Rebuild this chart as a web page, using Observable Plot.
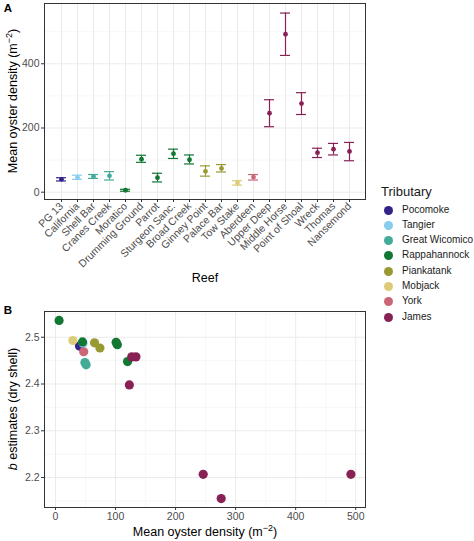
<!DOCTYPE html>
<html><head><meta charset="utf-8">
<script src="https://cdn.jsdelivr.net/npm/d3@7"></script>
<script src="https://cdn.jsdelivr.net/npm/@observablehq/plot@0.6"></script>
<style>
body{margin:0;background:#fff;font-family:"Liberation Sans",Arial,sans-serif;}
#wrap{position:relative;width:474px;height:541px;overflow:hidden;}
.panel{position:absolute;left:0;}
.leg{position:absolute;font-size:10px;color:#1a1a1a;white-space:nowrap;}
.legtitle{position:absolute;font-size:13px;color:#1a1a1a;}
.sw{position:absolute;width:9px;height:9px;border-radius:50%;}
</style></head><body><div id="wrap"></div>
<script>
const reefs = ["PG 13","California","Shell Bar","Cranes Creek","Moratico","Drumming Ground","Parrot","Sturgeon Sanc.","Broad Creek","Ginney Point","Palace Bar","Tow Stake","Aberdeen","Upper Deep","Middle Horse","Point of Shoal","Wreck","Thomas","Nansemond"];
const reefTributary = ["Pocomoke","Tangier","Great Wicomico","Great Wicomico","Rappahannock","Rappahannock","Rappahannock","Rappahannock","Rappahannock","Piankatank","Piankatank","Mobjack","York","James","James","James","James","James","James"];
const meanDensity = [40,46,49,51,6,103,45,120,101,65,74,29,47,246,492,276,123,134,127];
const densityLow = [35,40,43,38,3,93,32,105,88,50,63,22,38,204,426,242,108,116,98];
const densityHigh = [45,53,55,64,9,115,59,134,116,82,86,36,55,288,558,310,137,152,155];
const bEstimates = [2.481,2.487,2.446,2.441,2.536,2.484,2.490,2.448,2.489,2.488,2.477,2.493,2.469,2.207,2.207,2.155,2.398,2.458,2.458];
const tributaries = ["Pocomoke","Tangier","Great Wicomico","Rappahannock","Piankatank","Mobjack","York","James"];
const tributaryColors = ["#332288","#88ccee","#44aa99","#117733","#999933","#ddcc77","#cc6677","#882255"];
const yTicksA = [0,200,400];
const yMinorA = [100,300,500];
const xTicksB = [0,100,200,300,400,500];
const xMinorB = [50,150,250,350,450];
const yTicksB = [2.2,2.3,2.4,2.5];
const yMinorB = [2.15,2.25,2.35,2.45,2.55];

const data = reefs.map((r,i)=>({reef:r, trib:reefTributary[i], mean:meanDensity[i], lo:densityLow[i], hi:densityHigh[i], b:bEstimates[i]}));
const color = {domain: tributaries, range: tributaryColors};
const font = "Liberation Sans, Arial, sans-serif";
const wrap = document.getElementById("wrap");

const plotA = Plot.plot({
  width: 474, height: 290,
  marginLeft: 44, marginRight: 109, marginTop: 3, marginBottom: 91,
  style: {fontFamily: font, fontSize: "10.5px", background: "transparent", overflow: "visible"},
  x: {type: "band", domain: reefs, paddingInner: 0, paddingOuter: 0.1, label: null},
  y: {domain: [-22.75, 587.75], label: null},
  color,
  marks: [
    Plot.gridY(yMinorA, {stroke: "#f3f3f3", strokeOpacity: 1, strokeWidth: 0.7}),
    Plot.gridY(yTicksA, {stroke: "#ebebeb", strokeOpacity: 1, strokeWidth: 1}),
    Plot.gridX(reefs, {stroke: "#ebebeb", strokeOpacity: 1, strokeWidth: 1}),
    Plot.ruleX(data, {x: "reef", y1: "lo", y2: "hi", stroke: "trib", strokeWidth: 1.2}),
    Plot.tickY(data, {x: "reef", y: "lo", stroke: "trib", strokeWidth: 1.2, insetLeft: 3, insetRight: 3}),
    Plot.tickY(data, {x: "reef", y: "hi", stroke: "trib", strokeWidth: 1.2, insetLeft: 3, insetRight: 3}),
    Plot.dot(data, {x: "reef", y: "mean", fill: "trib", r: 2.4}),
    Plot.frame({stroke: "#333333", strokeWidth: 1}),
    Plot.axisY(yTicksA, {tickSize: 3, tickPadding: 2, label: null, stroke: "#333333", fill: "#4d4d4d"}),
    Plot.axisX({tickSize: 3, tickPadding: 2, tickRotate: -45, label: null, stroke: "#333333", fill: "#4d4d4d"})
  ]
});
plotA.classList.add("panel");
plotA.style.top = "0px";
wrap.appendChild(plotA);

const plotB = Plot.plot({
  width: 474, height: 251,
  marginLeft: 44, marginRight: 109, marginTop: 21, marginBottom: 34,
  style: {fontFamily: font, fontSize: "10.5px", background: "transparent", overflow: "visible"},
  x: {domain: [-18.3, 516.3], label: null},
  y: {domain: [2.136, 2.555], label: null},
  color,
  marks: [
    Plot.gridY(yMinorB, {stroke: "#f3f3f3", strokeOpacity: 1, strokeWidth: 0.7}),
    Plot.gridX(xMinorB, {stroke: "#f3f3f3", strokeOpacity: 1, strokeWidth: 0.7}),
    Plot.gridY(yTicksB, {stroke: "#ebebeb", strokeOpacity: 1, strokeWidth: 1}),
    Plot.gridX(xTicksB, {stroke: "#ebebeb", strokeOpacity: 1, strokeWidth: 1}),
    Plot.dot(data, {x: "mean", y: "b", fill: "trib", r: 4.6}),
    Plot.frame({stroke: "#333333", strokeWidth: 1}),
    Plot.axisY(yTicksB, {tickSize: 3, tickPadding: 2, label: null, stroke: "#333333", fill: "#4d4d4d", tickFormat: d3.format(".1f")}),
    Plot.axisX(xTicksB, {tickSize: 3, tickPadding: 2, label: null, stroke: "#333333", fill: "#4d4d4d"})
  ]
});
plotB.classList.add("panel");
plotB.style.top = "290px";
wrap.appendChild(plotB);

// Titles
function addText(svg, x, y, rotate, size, parts, weight) {
  const t = d3.select(svg).append("text")
    .attr("transform", `translate(${x},${y})` + (rotate ? ` rotate(${rotate})` : ""))
    .attr("text-anchor", "middle")
    .attr("font-family", font)
    .attr("font-size", size)
    .attr("font-weight", weight || "normal")
    .attr("fill", "#000");
  parts.forEach(p => {
    const s = t.append("tspan").text(p.t);
    if (p.sup) s.attr("baseline-shift", "super").attr("font-size", size * 0.72);
    if (p.it) s.attr("font-style", "italic");
  });
}
const densTitle = [{t: "Mean oyster density (m"}, {t: "\u22122", sup: true}, {t: ")"}];
addText(plotA, 17, 101, -90, 12.5, densTitle);
addText(plotA, 205, 282, 0, 12.5, [{t: "Reef"}]);
addText(plotA, 8, 12, 0, 11.5, [{t: "A"}], "bold");
addText(plotB, 17, 119, -90, 12.5, [{t: "b", it: true}, {t: " estimates (dry shell)"}]);
addText(plotB, 205, 246, 0, 12.5, densTitle);
addText(plotB, 8, 24, 0, 11.5, [{t: "B"}], "bold");

// Legend
const lt = document.createElement("div");
lt.className = "legtitle"; lt.textContent = "Tributary";
lt.style.left = "381px"; lt.style.top = "184px";
wrap.appendChild(lt);
tributaries.forEach((name, i) => {
  const cy = 210 + i * 15.3;
  const sw = document.createElement("div");
  sw.className = "sw"; sw.style.background = tributaryColors[i];
  sw.style.left = (388 - 4.5) + "px"; sw.style.top = (cy - 4.5) + "px";
  wrap.appendChild(sw);
  const lb = document.createElement("div");
  lb.className = "leg"; lb.textContent = name;
  lb.style.left = "402px"; lb.style.top = (cy - 6.5) + "px";
  wrap.appendChild(lb);
});
</script>
</body></html>
